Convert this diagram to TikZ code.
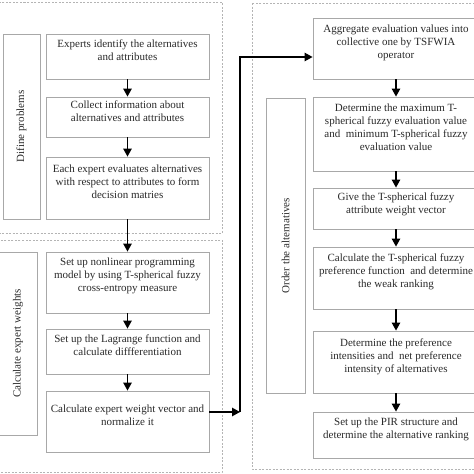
\documentclass[tikz,border=0pt]{standalone}
\usepackage{fontspec}
\setmainfont{Liberation Serif}
\usetikzlibrary{arrows.meta}
\definecolor{boxgray}{HTML}{A8A8A8}
\definecolor{dashgray}{HTML}{B4B4B4}
\definecolor{txtgray}{HTML}{2A2A2A}
\begin{document}
\begin{tikzpicture}[x=1pt,y=-1pt,
  box/.style={draw=boxgray, line width=0.9pt, inner sep=0pt},
  lbox/.style={box, minimum width=163pt},
  rbox/.style={box, minimum width=166pt},
  txt/.style={align=center, text=txtgray, font=\fontsize{11}{13}\selectfont, inner sep=0pt},
  vtxt/.style={txt, rotate=90},
  grp/.style={draw=dashgray, line width=0.8pt, dash pattern=on 2pt off 1.5pt},
  arr/.style={draw=black, line width=1.3pt, -{Triangle[length=8pt,width=8.5pt]}},
  lin/.style={draw=black, line width=1.3pt}]
\useasboundingbox (0,0) rectangle (474,474);
\fill[white] (0,0) rectangle (474,474);
% groups
\draw[grp] (-5,2) rectangle (222,233);
\draw[grp] (-5,240) rectangle (222,472);
\draw[grp] (252,3) rectangle (480,469);
% label boxes
\node[box, minimum width=37pt, minimum height=185pt] (l1) at (21.5,126.5) {};
\node[vtxt] (lt1) at (l1.center) {Difine problems};
\node[box, minimum width=38pt, minimum height=183pt] (l2) at (18,343.5) {};
\node[vtxt] (lt2) at (l2.center) {Calculate expert weights};
\node[box, minimum width=39pt, minimum height=295pt] (l3) at (285.5,245.5) {};
\node[vtxt] (lt3) at (l3.center) {Order the alternatives};
% left boxes
\node[lbox, minimum height=45pt] (b1) at (127.5,56.5) {};
\node[txt] (t1) at ([yshift=6pt]b1.center) {Experts identify the alternatives\\and attributes};
\node[lbox, minimum height=40pt] (b2) at (127.5,117) {};
\node[txt] (t2) at ([yshift=6pt]b2.center) {Collect information about\\alternatives and attributes};
\node[lbox, minimum height=62pt] (b3) at (127.5,188) {};
\node[txt] (t3) at ([yshift=6pt]b3.center) {Each expert evaluates alternatives\\with respect to attributes to form\\decision matries};
\node[lbox, minimum height=61pt] (b4) at (127.5,282.5) {};
\node[txt] (t4) at ([yshift=6.5pt]b4.center) {Set up nonlinear programming\\model by using T-spherical fuzzy\\cross-entropy measure};
\node[lbox, minimum height=45pt] (b5) at (127.5,351.5) {};
\node[txt] (t5) at ([yshift=6pt]b5.center) {Set up the Lagrange function and\\calculate diffferentiation};
\node[lbox, minimum height=61pt] (b6) at (127.5,421.5) {};
\node[txt] (t6) at ([yshift=6pt]b6.center) {Calculate expert weight vector and\\normalize it};
% right boxes
\node[rbox, minimum height=61pt] (b7) at (396,48.5) {};
\node[txt] (t7) at ([yshift=6pt]b7.center) {Aggregate evaluation values into\\collective one by TSFWIA\\operator};
\node[rbox, minimum height=74pt] (b8) at (396,134) {};
\node[txt] (t8) at ([yshift=6.5pt]b8.center) {Determine the maximum T-\\spherical fuzzy evaluation value\\and\ \ minimum T-spherical fuzzy\\evaluation value};
\node[rbox, minimum height=41pt] (b9) at (396,208.5) {};
\node[txt] (t9) at ([yshift=4.5pt]b9.center) {Give the T-spherical fuzzy\\attribute weight vector};
\node[rbox, minimum height=62pt] (b10) at (396,278) {};
\node[txt] (t10) at ([yshift=6pt]b10.center) {Calculate the T-spherical fuzzy\\preference function\ \ and determine\\the weak ranking};
\node[rbox, minimum height=62pt] (b11) at (396,362) {};
\node[txt] (t11) at ([yshift=5pt]b11.center) {Determine the preference\\intensities and\ \ net preference\\intensity of alternatives};
\node[rbox, minimum height=46pt] (b12) at (396,435) {};
\node[txt] (t12) at ([yshift=6pt]b12.center) {Set up the PIR structure and\\determine the alternative ranking};
% arrows
\draw[arr] (b1.south) -- (b2.north);
\draw[arr] (b2.south) -- (b3.north);
\draw[arr] (b3.south) -- (b4.north);
\draw[arr] (b4.south) -- (b5.north);
\draw[arr] (b5.south) -- (b6.north);
\draw[arr] (b7.south) -- (b8.north);
\draw[arr] (b8.south) -- (b9.north);
\draw[arr] (b9.south) -- (b10.north);
\draw[arr] (b10.south) -- (b11.north);
\draw[arr] (b11.south) -- (b12.north);
\coordinate (c1) at (240,412);
\coordinate (c2) at (240,57);
\draw[arr] (c1 -| b6.east) -- (c1);
\draw[arr] (c1) -- (c2) -- (c2 -| b7.west);
\end{tikzpicture}
\end{document}
